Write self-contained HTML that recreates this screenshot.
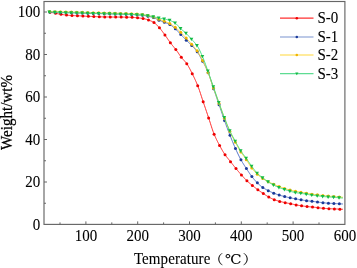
<!DOCTYPE html>
<html><head><meta charset="utf-8"><style>
html,body{margin:0;padding:0;background:#fff;}
body{width:357px;height:268px;overflow:hidden;}
svg{display:block;}
.t{font-family:"Liberation Serif","Noto Serif CJK SC",serif;font-size:15px;fill:#000;stroke:#000;stroke-width:0.08px;}
.c{font-family:"Noto Serif CJK SC","Liberation Serif",serif;}
.d{font-family:"DejaVu Serif","Noto Serif CJK SC",serif;}
</style></head><body>
<svg width="357" height="268" viewBox="0 0 357 268">
<rect x="44" y="1.5" width="300.9" height="222.9" fill="none" stroke="#666" stroke-width="1.15"/>
<line x1="44" y1="203.25" x2="46" y2="203.25" stroke="#666" stroke-width="1"/>
<line x1="44" y1="182.00" x2="47" y2="182.00" stroke="#666" stroke-width="1"/>
<line x1="44" y1="160.75" x2="46" y2="160.75" stroke="#666" stroke-width="1"/>
<line x1="44" y1="139.50" x2="47" y2="139.50" stroke="#666" stroke-width="1"/>
<line x1="44" y1="118.25" x2="46" y2="118.25" stroke="#666" stroke-width="1"/>
<line x1="44" y1="97.00" x2="47" y2="97.00" stroke="#666" stroke-width="1"/>
<line x1="44" y1="75.75" x2="46" y2="75.75" stroke="#666" stroke-width="1"/>
<line x1="44" y1="54.50" x2="47" y2="54.50" stroke="#666" stroke-width="1"/>
<line x1="44" y1="33.25" x2="46" y2="33.25" stroke="#666" stroke-width="1"/>
<line x1="44" y1="12.00" x2="47" y2="12.00" stroke="#666" stroke-width="1"/>
<line x1="60.00" y1="224.4" x2="60.00" y2="222.4" stroke="#666" stroke-width="1"/>
<line x1="85.90" y1="224.4" x2="85.90" y2="221.4" stroke="#666" stroke-width="1"/>
<line x1="111.80" y1="224.4" x2="111.80" y2="222.4" stroke="#666" stroke-width="1"/>
<line x1="137.70" y1="224.4" x2="137.70" y2="221.4" stroke="#666" stroke-width="1"/>
<line x1="163.60" y1="224.4" x2="163.60" y2="222.4" stroke="#666" stroke-width="1"/>
<line x1="189.50" y1="224.4" x2="189.50" y2="221.4" stroke="#666" stroke-width="1"/>
<line x1="215.40" y1="224.4" x2="215.40" y2="222.4" stroke="#666" stroke-width="1"/>
<line x1="241.30" y1="224.4" x2="241.30" y2="221.4" stroke="#666" stroke-width="1"/>
<line x1="267.20" y1="224.4" x2="267.20" y2="222.4" stroke="#666" stroke-width="1"/>
<line x1="293.10" y1="224.4" x2="293.10" y2="221.4" stroke="#666" stroke-width="1"/>
<line x1="319.00" y1="224.4" x2="319.00" y2="222.4" stroke="#666" stroke-width="1"/>
<text transform="translate(40.2 229.60) scale(1 1.07)" text-anchor="end" class="t">0</text>
<text transform="translate(40.2 187.10) scale(1 1.07)" text-anchor="end" class="t">20</text>
<text transform="translate(40.2 144.60) scale(1 1.07)" text-anchor="end" class="t">40</text>
<text transform="translate(40.2 102.10) scale(1 1.07)" text-anchor="end" class="t">60</text>
<text transform="translate(40.2 59.60) scale(1 1.07)" text-anchor="end" class="t">80</text>
<text transform="translate(40.2 17.10) scale(1 1.07)" text-anchor="end" class="t">100</text>
<text transform="translate(85.90 240.9) scale(1 1.07)" text-anchor="middle" class="t">100</text>
<text transform="translate(137.70 240.9) scale(1 1.07)" text-anchor="middle" class="t">200</text>
<text transform="translate(189.50 240.9) scale(1 1.07)" text-anchor="middle" class="t">300</text>
<text transform="translate(241.30 240.9) scale(1 1.07)" text-anchor="middle" class="t">400</text>
<text transform="translate(293.10 240.9) scale(1 1.07)" text-anchor="middle" class="t">500</text>
<text transform="translate(344.90 240.9) scale(1 1.07)" text-anchor="middle" class="t">600</text>
<text transform="translate(133.9 263.6) scale(1 1.05)" class="t" textLength="76.4" lengthAdjust="spacing">Temperature</text>
<text x="208.6" y="263.6" class="t c" transform="translate(0 264.8) scale(1 0.867) translate(0 -264.8)">（</text>
<text x="224.7" y="264.2" class="t d" transform="translate(0 264.3) scale(1 0.89) translate(0 -264.3)">℃</text>
<text x="242.6" y="263.6" class="t c" transform="translate(0 264.8) scale(1 0.867) translate(0 -264.8)">）</text>
<text transform="translate(12.0 150.0) rotate(-90)" class="t" style="font-size:16.5px;stroke-width:0.25px" textLength="75" lengthAdjust="spacingAndGlyphs">Weight/wt%</text>
<polyline points="48.0,11.80 48.5,11.87 49.0,11.95 49.5,12.03 50.0,12.12 50.5,12.21 51.0,12.30 51.5,12.40 52.0,12.51 52.5,12.62 53.0,12.73 53.5,12.85 54.0,12.97 54.5,13.09 55.0,13.20 55.5,13.30 56.0,13.40 56.5,13.50 57.0,13.59 57.5,13.69 58.0,13.78 58.5,13.88 59.0,13.97 59.5,14.05 60.0,14.14 60.5,14.22 61.0,14.31 61.5,14.38 62.0,14.46 62.5,14.54 63.0,14.61 63.5,14.69 64.0,14.76 64.5,14.83 65.0,14.90 65.5,14.97 66.0,15.03 66.5,15.09 67.0,15.15 67.5,15.20 68.0,15.25 68.5,15.30 69.0,15.34 69.5,15.39 70.0,15.43 70.5,15.47 71.0,15.50 71.5,15.54 72.0,15.57 72.5,15.60 73.0,15.62 73.5,15.64 74.0,15.66 74.5,15.67 75.0,15.69 75.5,15.70 76.0,15.72 76.5,15.73 77.0,15.74 77.5,15.76 78.0,15.78 78.5,15.80 79.0,15.82 79.5,15.85 80.0,15.88 80.5,15.91 81.0,15.94 81.5,15.98 82.0,16.01 82.5,16.04 83.0,16.07 83.5,16.10 84.0,16.13 84.5,16.15 85.0,16.18 85.5,16.20 86.0,16.22 86.5,16.25 87.0,16.27 87.5,16.29 88.0,16.31 88.5,16.34 89.0,16.36 89.5,16.38 90.0,16.40 90.5,16.42 91.0,16.44 91.5,16.47 92.0,16.49 92.5,16.51 93.0,16.53 93.5,16.56 94.0,16.58 94.5,16.60 95.0,16.62 95.5,16.64 96.0,16.66 96.5,16.68 97.0,16.70 97.5,16.72 98.0,16.74 98.5,16.76 99.0,16.77 99.5,16.79 100.0,16.80 100.5,16.81 101.0,16.83 101.5,16.84 102.0,16.85 102.5,16.86 103.0,16.87 103.5,16.88 104.0,16.90 104.5,16.91 105.0,16.92 105.5,16.93 106.0,16.94 106.5,16.94 107.0,16.95 107.5,16.96 108.0,16.97 108.5,16.98 109.0,16.99 109.5,16.99 110.0,17.00 110.5,17.01 111.0,17.01 111.5,17.02 112.0,17.02 112.5,17.03 113.0,17.03 113.5,17.04 114.0,17.04 114.5,17.05 115.0,17.05 115.5,17.05 116.0,17.06 116.5,17.06 117.0,17.06 117.5,17.07 118.0,17.07 118.5,17.07 119.0,17.08 119.5,17.08 120.0,17.08 120.5,17.09 121.0,17.09 121.5,17.09 122.0,17.10 122.5,17.10 123.0,17.11 123.5,17.11 124.0,17.11 124.5,17.12 125.0,17.12 125.5,17.13 126.0,17.14 126.5,17.14 127.0,17.15 127.5,17.16 128.0,17.16 128.5,17.17 129.0,17.18 129.5,17.19 130.0,17.20 130.5,17.21 131.0,17.24 131.5,17.26 132.0,17.30 132.5,17.34 133.0,17.38 133.5,17.43 134.0,17.48 134.5,17.53 135.0,17.59 135.5,17.64 136.0,17.70 136.5,17.75 137.0,17.80 137.5,17.85 138.0,17.90 138.5,17.95 139.0,18.00 139.5,18.05 140.0,18.10 140.5,18.16 141.0,18.22 141.5,18.28 142.0,18.35 142.5,18.42 143.0,18.50 143.5,18.59 144.0,18.69 144.5,18.80 145.0,18.92 145.5,19.05 146.0,19.20 146.5,19.34 147.0,19.50 147.5,19.66 148.0,19.83 148.5,20.00 149.0,20.18 149.5,20.37 150.0,20.56 150.5,20.77 151.0,20.99 151.5,21.23 152.0,21.47 152.5,21.73 153.0,22.01 153.5,22.30 154.0,22.61 154.5,22.93 155.0,23.30 155.5,23.71 156.0,24.16 156.5,24.64 157.0,25.15 157.5,25.68 158.0,26.22 158.5,26.78 159.0,27.34 159.5,27.90 160.0,28.47 160.5,29.07 161.0,29.69 161.5,30.33 162.0,30.99 162.5,31.66 163.0,32.33 163.5,33.02 164.0,33.70 164.5,34.39 165.0,35.07 165.5,35.77 166.0,36.49 166.5,37.21 167.0,37.94 167.5,38.68 168.0,39.42 168.5,40.15 169.0,40.87 169.5,41.59 170.0,42.29 170.5,42.97 171.0,43.62 171.5,44.26 172.0,44.89 172.5,45.50 173.0,46.10 173.5,46.70 174.0,47.30 174.5,47.90 175.0,48.51 175.5,49.14 176.0,49.77 176.5,50.43 177.0,51.12 177.5,51.83 178.0,52.56 178.5,53.30 179.0,54.05 179.5,54.78 180.0,55.51 180.5,56.22 181.0,56.91 181.5,57.56 182.0,58.17 182.5,58.75 183.0,59.31 183.5,59.85 184.0,60.39 184.5,60.94 185.0,61.50 185.5,62.08 186.0,62.69 186.5,63.34 187.0,64.04 187.5,64.80 188.0,65.61 188.5,66.47 189.0,67.36 189.5,68.29 190.0,69.24 190.5,70.21 191.0,71.20 191.5,72.20 192.0,73.20 192.5,74.20 193.0,75.21 193.5,76.23 194.0,77.26 194.5,78.31 195.0,79.38 195.5,80.48 196.0,81.60 196.5,82.75 197.0,83.93 197.5,85.15 198.0,86.41 198.5,87.74 199.0,89.13 199.5,90.57 200.0,92.06 200.5,93.57 201.0,95.11 201.5,96.65 202.0,98.18 202.5,99.71 203.0,101.20 203.5,102.68 204.0,104.16 204.5,105.64 205.0,107.12 205.5,108.60 206.0,110.08 206.5,111.57 207.0,113.05 207.5,114.54 208.0,116.02 208.5,117.51 209.0,119.00 209.5,120.53 210.0,122.08 210.5,123.66 211.0,125.24 211.5,126.80 212.0,128.34 212.5,129.83 213.0,131.26 213.5,132.63 214.0,133.90 214.5,135.10 215.0,136.26 215.5,137.37 216.0,138.45 216.5,139.50 217.0,140.51 217.5,141.51 218.0,142.48 218.5,143.43 219.0,144.38 219.5,145.31 220.0,146.24 220.5,147.16 221.0,148.07 221.5,148.96 222.0,149.84 222.5,150.69 223.0,151.53 223.5,152.35 224.0,153.14 224.5,153.91 225.0,154.65 225.5,155.36 226.0,156.04 226.5,156.70 227.0,157.35 227.5,157.98 228.0,158.60 228.5,159.21 229.0,159.82 229.5,160.43 230.0,161.05 230.5,161.67 231.0,162.31 231.5,162.94 232.0,163.58 232.5,164.21 233.0,164.85 233.5,165.48 234.0,166.11 234.5,166.73 235.0,167.35 235.5,167.97 236.0,168.58 236.5,169.18 237.0,169.79 237.5,170.39 238.0,170.98 238.5,171.57 239.0,172.16 239.5,172.74 240.0,173.32 240.5,173.89 241.0,174.46 241.5,175.02 242.0,175.59 242.5,176.15 243.0,176.71 243.5,177.26 244.0,177.81 244.5,178.35 245.0,178.88 245.5,179.40 246.0,179.91 246.5,180.40 247.0,180.88 247.5,181.35 248.0,181.80 248.5,182.25 249.0,182.69 249.5,183.12 250.0,183.54 250.5,183.96 251.0,184.38 251.5,184.79 252.0,185.20 252.5,185.61 253.0,186.01 253.5,186.41 254.0,186.81 254.5,187.20 255.0,187.59 255.5,187.98 256.0,188.36 256.5,188.73 257.0,189.11 257.5,189.48 258.0,189.85 258.5,190.21 259.0,190.57 259.5,190.93 260.0,191.28 260.5,191.63 261.0,191.97 261.5,192.32 262.0,192.66 262.5,193.00 263.0,193.33 263.5,193.67 264.0,194.01 264.5,194.35 265.0,194.68 265.5,195.02 266.0,195.35 266.5,195.67 267.0,195.99 267.5,196.29 268.0,196.59 268.5,196.87 269.0,197.15 269.5,197.43 270.0,197.70 270.5,197.96 271.0,198.22 271.5,198.47 272.0,198.72 272.5,198.95 273.0,199.17 273.5,199.38 274.0,199.58 274.5,199.77 275.0,199.95 275.5,200.12 276.0,200.29 276.5,200.45 277.0,200.61 277.5,200.76 278.0,200.91 278.5,201.05 279.0,201.19 279.5,201.33 280.0,201.46 280.5,201.58 281.0,201.71 281.5,201.83 282.0,201.94 282.5,202.05 283.0,202.17 283.5,202.28 284.0,202.38 284.5,202.49 285.0,202.60 285.5,202.71 286.0,202.81 286.5,202.92 287.0,203.02 287.5,203.12 288.0,203.22 288.5,203.32 289.0,203.42 289.5,203.52 290.0,203.62 290.5,203.72 291.0,203.82 291.5,203.93 292.0,204.04 292.5,204.14 293.0,204.25 293.5,204.35 294.0,204.46 294.5,204.56 295.0,204.66 295.5,204.76 296.0,204.86 296.5,204.95 297.0,205.05 297.5,205.14 298.0,205.24 298.5,205.33 299.0,205.42 299.5,205.51 300.0,205.59 300.5,205.68 301.0,205.75 301.5,205.83 302.0,205.90 302.5,205.97 303.0,206.04 303.5,206.11 304.0,206.18 304.5,206.24 305.0,206.30 305.5,206.36 306.0,206.42 306.5,206.48 307.0,206.53 307.5,206.58 308.0,206.63 308.5,206.68 309.0,206.72 309.5,206.77 310.0,206.81 310.5,206.86 311.0,206.90 311.5,206.95 312.0,207.00 312.5,207.05 313.0,207.10 313.5,207.15 314.0,207.20 314.5,207.25 315.0,207.31 315.5,207.36 316.0,207.42 316.5,207.47 317.0,207.53 317.5,207.59 318.0,207.65 318.5,207.72 319.0,207.79 319.5,207.87 320.0,207.95 320.5,208.02 321.0,208.09 321.5,208.16 322.0,208.22 322.5,208.27 323.0,208.32 323.5,208.35 324.0,208.38 324.5,208.41 325.0,208.44 325.5,208.47 326.0,208.49 326.5,208.52 327.0,208.54 327.5,208.57 328.0,208.59 328.5,208.62 329.0,208.65 329.5,208.68 330.0,208.71 330.5,208.74 331.0,208.76 331.5,208.79 332.0,208.82 332.5,208.84 333.0,208.87 333.5,208.89 334.0,208.91 334.5,208.93 335.0,208.95 335.5,208.97 336.0,208.98 336.5,209.00 337.0,209.02 337.5,209.03 338.0,209.05 338.5,209.07 339.0,209.09 339.5,209.11 340.0,209.13 340.5,209.16 341.0,209.18 341.5,209.21 342.0,209.24 342.5,209.27 343.0,209.30" fill="none" stroke="#ff2020" stroke-width="0.95"/>
<circle cx="50.10" cy="12.14" r="1.50" fill="#ee0000"/>
<circle cx="55.57" cy="13.31" r="1.50" fill="#ee0000"/>
<circle cx="61.03" cy="14.31" r="1.50" fill="#ee0000"/>
<circle cx="66.50" cy="15.09" r="1.50" fill="#ee0000"/>
<circle cx="71.97" cy="15.57" r="1.50" fill="#ee0000"/>
<circle cx="77.44" cy="15.76" r="1.50" fill="#ee0000"/>
<circle cx="82.90" cy="16.07" r="1.50" fill="#ee0000"/>
<circle cx="88.37" cy="16.33" r="1.50" fill="#ee0000"/>
<circle cx="93.84" cy="16.57" r="1.50" fill="#ee0000"/>
<circle cx="99.30" cy="16.78" r="1.50" fill="#ee0000"/>
<circle cx="104.77" cy="16.91" r="1.50" fill="#ee0000"/>
<circle cx="110.24" cy="17.00" r="1.50" fill="#ee0000"/>
<circle cx="115.70" cy="17.06" r="1.50" fill="#ee0000"/>
<circle cx="121.17" cy="17.09" r="1.50" fill="#ee0000"/>
<circle cx="126.64" cy="17.14" r="1.50" fill="#ee0000"/>
<circle cx="132.10" cy="17.31" r="1.50" fill="#ee0000"/>
<circle cx="137.57" cy="17.86" r="1.50" fill="#ee0000"/>
<circle cx="143.04" cy="18.51" r="1.50" fill="#ee0000"/>
<circle cx="148.51" cy="20.00" r="1.50" fill="#ee0000"/>
<circle cx="153.97" cy="22.59" r="1.50" fill="#ee0000"/>
<circle cx="159.44" cy="27.83" r="1.50" fill="#ee0000"/>
<circle cx="164.91" cy="34.95" r="1.50" fill="#ee0000"/>
<circle cx="170.37" cy="42.80" r="1.50" fill="#ee0000"/>
<circle cx="175.84" cy="49.57" r="1.50" fill="#ee0000"/>
<circle cx="181.31" cy="57.31" r="1.50" fill="#ee0000"/>
<circle cx="186.77" cy="63.72" r="1.50" fill="#ee0000"/>
<circle cx="192.24" cy="73.68" r="1.50" fill="#ee0000"/>
<circle cx="197.71" cy="85.67" r="1.50" fill="#ee0000"/>
<circle cx="203.18" cy="101.72" r="1.50" fill="#ee0000"/>
<circle cx="208.64" cy="117.93" r="1.50" fill="#ee0000"/>
<circle cx="214.11" cy="134.17" r="1.50" fill="#ee0000"/>
<circle cx="219.58" cy="145.46" r="1.50" fill="#ee0000"/>
<circle cx="225.04" cy="154.71" r="1.50" fill="#ee0000"/>
<circle cx="230.51" cy="161.69" r="1.50" fill="#ee0000"/>
<circle cx="235.98" cy="168.55" r="1.50" fill="#ee0000"/>
<circle cx="241.44" cy="174.96" r="1.50" fill="#ee0000"/>
<circle cx="246.91" cy="180.80" r="1.50" fill="#ee0000"/>
<circle cx="252.38" cy="185.51" r="1.50" fill="#ee0000"/>
<circle cx="257.85" cy="189.73" r="1.50" fill="#ee0000"/>
<circle cx="263.31" cy="193.54" r="1.50" fill="#ee0000"/>
<circle cx="268.78" cy="197.03" r="1.50" fill="#ee0000"/>
<circle cx="274.25" cy="199.67" r="1.50" fill="#ee0000"/>
<circle cx="279.71" cy="201.38" r="1.50" fill="#ee0000"/>
<circle cx="285.18" cy="202.64" r="1.50" fill="#ee0000"/>
<circle cx="290.65" cy="203.75" r="1.50" fill="#ee0000"/>
<circle cx="296.12" cy="204.88" r="1.50" fill="#ee0000"/>
<circle cx="301.58" cy="205.84" r="1.50" fill="#ee0000"/>
<circle cx="307.05" cy="206.54" r="1.50" fill="#ee0000"/>
<circle cx="312.52" cy="207.05" r="1.50" fill="#ee0000"/>
<circle cx="317.98" cy="207.65" r="1.50" fill="#ee0000"/>
<circle cx="323.45" cy="208.35" r="1.50" fill="#ee0000"/>
<circle cx="328.92" cy="208.65" r="1.50" fill="#ee0000"/>
<circle cx="334.38" cy="208.93" r="1.50" fill="#ee0000"/>
<circle cx="339.85" cy="209.13" r="1.50" fill="#ee0000"/>
<polyline points="48.0,12.00 48.5,12.02 49.0,12.03 49.5,12.05 50.0,12.07 50.5,12.08 51.0,12.10 51.5,12.11 52.0,12.13 52.5,12.15 53.0,12.16 53.5,12.18 54.0,12.20 54.5,12.21 55.0,12.23 55.5,12.24 56.0,12.26 56.5,12.28 57.0,12.29 57.5,12.31 58.0,12.32 58.5,12.34 59.0,12.36 59.5,12.37 60.0,12.39 60.5,12.40 61.0,12.42 61.5,12.43 62.0,12.45 62.5,12.47 63.0,12.48 63.5,12.50 64.0,12.51 64.5,12.53 65.0,12.54 65.5,12.56 66.0,12.58 66.5,12.59 67.0,12.61 67.5,12.62 68.0,12.64 68.5,12.65 69.0,12.67 69.5,12.68 70.0,12.70 70.5,12.72 71.0,12.73 71.5,12.75 72.0,12.76 72.5,12.78 73.0,12.79 73.5,12.81 74.0,12.82 74.5,12.84 75.0,12.85 75.5,12.87 76.0,12.89 76.5,12.90 77.0,12.92 77.5,12.93 78.0,12.95 78.5,12.96 79.0,12.98 79.5,12.99 80.0,13.01 80.5,13.02 81.0,13.04 81.5,13.05 82.0,13.07 82.5,13.08 83.0,13.10 83.5,13.11 84.0,13.13 84.5,13.14 85.0,13.16 85.5,13.17 86.0,13.19 86.5,13.20 87.0,13.22 87.5,13.23 88.0,13.24 88.5,13.26 89.0,13.27 89.5,13.29 90.0,13.30 90.5,13.31 91.0,13.33 91.5,13.34 92.0,13.35 92.5,13.37 93.0,13.38 93.5,13.39 94.0,13.40 94.5,13.42 95.0,13.43 95.5,13.44 96.0,13.45 96.5,13.47 97.0,13.48 97.5,13.49 98.0,13.50 98.5,13.51 99.0,13.53 99.5,13.54 100.0,13.55 100.5,13.56 101.0,13.57 101.5,13.59 102.0,13.60 102.5,13.61 103.0,13.62 103.5,13.63 104.0,13.65 104.5,13.66 105.0,13.67 105.5,13.68 106.0,13.70 106.5,13.71 107.0,13.72 107.5,13.73 108.0,13.75 108.5,13.76 109.0,13.77 109.5,13.79 110.0,13.80 110.5,13.81 111.0,13.83 111.5,13.84 112.0,13.85 112.5,13.87 113.0,13.88 113.5,13.89 114.0,13.90 114.5,13.92 115.0,13.93 115.5,13.94 116.0,13.95 116.5,13.97 117.0,13.98 117.5,13.99 118.0,14.00 118.5,14.02 119.0,14.03 119.5,14.04 120.0,14.06 120.5,14.07 121.0,14.08 121.5,14.10 122.0,14.11 122.5,14.13 123.0,14.14 123.5,14.16 124.0,14.17 124.5,14.19 125.0,14.21 125.5,14.22 126.0,14.24 126.5,14.26 127.0,14.28 127.5,14.30 128.0,14.32 128.5,14.34 129.0,14.36 129.5,14.38 130.0,14.40 130.5,14.42 131.0,14.45 131.5,14.47 132.0,14.50 132.5,14.52 133.0,14.55 133.5,14.58 134.0,14.61 134.5,14.65 135.0,14.68 135.5,14.71 136.0,14.75 136.5,14.79 137.0,14.82 137.5,14.86 138.0,14.91 138.5,14.95 139.0,14.99 139.5,15.04 140.0,15.08 140.5,15.13 141.0,15.18 141.5,15.24 142.0,15.29 142.5,15.34 143.0,15.40 143.5,15.46 144.0,15.52 144.5,15.59 145.0,15.67 145.5,15.75 146.0,15.83 146.5,15.92 147.0,16.01 147.5,16.11 148.0,16.21 148.5,16.32 149.0,16.43 149.5,16.55 150.0,16.67 150.5,16.79 151.0,16.92 151.5,17.06 152.0,17.19 152.5,17.33 153.0,17.48 153.5,17.63 154.0,17.80 154.5,18.00 155.0,18.23 155.5,18.47 156.0,18.72 156.5,18.98 157.0,19.24 157.5,19.50 158.0,19.75 158.5,19.98 159.0,20.20 159.5,20.40 160.0,20.60 160.5,20.78 161.0,20.97 161.5,21.15 162.0,21.33 162.5,21.51 163.0,21.69 163.5,21.87 164.0,22.06 164.5,22.26 165.0,22.46 165.5,22.66 166.0,22.86 166.5,23.06 167.0,23.27 167.5,23.48 168.0,23.70 168.5,23.92 169.0,24.16 169.5,24.42 170.0,24.69 170.5,24.98 171.0,25.30 171.5,25.64 172.0,26.01 172.5,26.40 173.0,26.81 173.5,27.23 174.0,27.66 174.5,28.10 175.0,28.55 175.5,29.00 176.0,29.46 176.5,29.95 177.0,30.45 177.5,30.97 178.0,31.50 178.5,32.04 179.0,32.58 179.5,33.13 180.0,33.66 180.5,34.19 181.0,34.71 181.5,35.23 182.0,35.75 182.5,36.28 183.0,36.80 183.5,37.32 184.0,37.84 184.5,38.36 185.0,38.88 185.5,39.39 186.0,39.90 186.5,40.40 187.0,40.90 187.5,41.38 188.0,41.86 188.5,42.34 189.0,42.82 189.5,43.30 190.0,43.79 190.5,44.28 191.0,44.78 191.5,45.29 192.0,45.81 192.5,46.34 193.0,46.86 193.5,47.38 194.0,47.91 194.5,48.46 195.0,49.02 195.5,49.60 196.0,50.20 196.5,50.84 197.0,51.50 197.5,52.21 198.0,52.96 198.5,53.75 199.0,54.59 199.5,55.45 200.0,56.33 200.5,57.23 201.0,58.15 201.5,59.07 202.0,60.00 202.5,60.93 203.0,61.85 203.5,62.79 204.0,63.74 204.5,64.71 205.0,65.70 205.5,66.71 206.0,67.75 206.5,68.83 207.0,69.94 207.5,71.09 208.0,72.29 208.5,73.56 209.0,74.92 209.5,76.33 210.0,77.80 210.5,79.30 211.0,80.82 211.5,82.36 212.0,83.90 212.5,85.42 213.0,86.91 213.5,88.38 214.0,89.84 214.5,91.30 215.0,92.77 215.5,94.24 216.0,95.71 216.5,97.17 217.0,98.64 217.5,100.11 218.0,101.57 218.5,103.04 219.0,104.50 219.5,105.96 220.0,107.43 220.5,108.90 221.0,110.38 221.5,111.85 222.0,113.32 222.5,114.78 223.0,116.23 223.5,117.67 224.0,119.09 224.5,120.50 225.0,121.90 225.5,123.29 226.0,124.67 226.5,126.05 227.0,127.41 227.5,128.77 228.0,130.11 228.5,131.44 229.0,132.76 229.5,134.06 230.0,135.34 230.5,136.62 231.0,137.88 231.5,139.13 232.0,140.38 232.5,141.61 233.0,142.82 233.5,144.02 234.0,145.20 234.5,146.36 235.0,147.50 235.5,148.62 236.0,149.73 236.5,150.82 237.0,151.90 237.5,152.97 238.0,154.03 238.5,155.06 239.0,156.08 239.5,157.07 240.0,158.04 240.5,158.98 241.0,159.90 241.5,160.79 242.0,161.65 242.5,162.49 243.0,163.31 243.5,164.12 244.0,164.91 244.5,165.68 245.0,166.46 245.5,167.22 246.0,167.98 246.5,168.75 247.0,169.51 247.5,170.28 248.0,171.05 248.5,171.81 249.0,172.56 249.5,173.30 250.0,174.03 250.5,174.74 251.0,175.44 251.5,176.11 252.0,176.76 252.5,177.39 253.0,178.01 253.5,178.62 254.0,179.22 254.5,179.80 255.0,180.37 255.5,180.93 256.0,181.47 256.5,181.99 257.0,182.50 257.5,183.00 258.0,183.48 258.5,183.96 259.0,184.43 259.5,184.88 260.0,185.32 260.5,185.75 261.0,186.17 261.5,186.56 262.0,186.94 262.5,187.30 263.0,187.64 263.5,187.97 264.0,188.28 264.5,188.59 265.0,188.88 265.5,189.16 266.0,189.44 266.5,189.71 267.0,189.98 267.5,190.24 268.0,190.50 268.5,190.75 269.0,191.01 269.5,191.26 270.0,191.50 270.5,191.74 271.0,191.98 271.5,192.21 272.0,192.44 272.5,192.66 273.0,192.87 273.5,193.08 274.0,193.28 274.5,193.48 275.0,193.67 275.5,193.85 276.0,194.04 276.5,194.21 277.0,194.39 277.5,194.56 278.0,194.72 278.5,194.88 279.0,195.04 279.5,195.19 280.0,195.34 280.5,195.48 281.0,195.62 281.5,195.76 282.0,195.89 282.5,196.02 283.0,196.15 283.5,196.28 284.0,196.40 284.5,196.53 285.0,196.65 285.5,196.77 286.0,196.89 286.5,197.01 287.0,197.12 287.5,197.24 288.0,197.35 288.5,197.46 289.0,197.57 289.5,197.67 290.0,197.78 290.5,197.88 291.0,197.98 291.5,198.08 292.0,198.18 292.5,198.28 293.0,198.37 293.5,198.47 294.0,198.56 294.5,198.65 295.0,198.74 295.5,198.84 296.0,198.93 296.5,199.02 297.0,199.11 297.5,199.20 298.0,199.28 298.5,199.37 299.0,199.46 299.5,199.54 300.0,199.63 300.5,199.72 301.0,199.80 301.5,199.89 302.0,199.97 302.5,200.06 303.0,200.15 303.5,200.23 304.0,200.32 304.5,200.40 305.0,200.48 305.5,200.56 306.0,200.63 306.5,200.70 307.0,200.76 307.5,200.82 308.0,200.88 308.5,200.93 309.0,200.98 309.5,201.03 310.0,201.08 310.5,201.14 311.0,201.19 311.5,201.24 312.0,201.30 312.5,201.36 313.0,201.42 313.5,201.49 314.0,201.55 314.5,201.62 315.0,201.68 315.5,201.75 316.0,201.82 316.5,201.88 317.0,201.95 317.5,202.01 318.0,202.08 318.5,202.15 319.0,202.21 319.5,202.28 320.0,202.35 320.5,202.42 321.0,202.48 321.5,202.55 322.0,202.61 322.5,202.67 323.0,202.72 323.5,202.78 324.0,202.83 324.5,202.88 325.0,202.93 325.5,202.98 326.0,203.03 326.5,203.07 327.0,203.12 327.5,203.16 328.0,203.19 328.5,203.23 329.0,203.26 329.5,203.29 330.0,203.31 330.5,203.34 331.0,203.37 331.5,203.39 332.0,203.41 332.5,203.44 333.0,203.46 333.5,203.49 334.0,203.52 334.5,203.54 335.0,203.57 335.5,203.60 336.0,203.62 336.5,203.65 337.0,203.68 337.5,203.70 338.0,203.73 338.5,203.76 339.0,203.78 339.5,203.81 340.0,203.84 340.5,203.86 341.0,203.89 341.5,203.92 342.0,203.95 342.5,203.97 343.0,204.00" fill="none" stroke="#4f6fc4" stroke-width="0.95"/>
<circle cx="49.60" cy="12.05" r="1.50" fill="#1a3a99"/>
<circle cx="55.07" cy="12.23" r="1.50" fill="#1a3a99"/>
<circle cx="60.53" cy="12.40" r="1.50" fill="#1a3a99"/>
<circle cx="66.00" cy="12.58" r="1.50" fill="#1a3a99"/>
<circle cx="71.47" cy="12.75" r="1.50" fill="#1a3a99"/>
<circle cx="76.94" cy="12.91" r="1.50" fill="#1a3a99"/>
<circle cx="82.40" cy="13.08" r="1.50" fill="#1a3a99"/>
<circle cx="87.87" cy="13.24" r="1.50" fill="#1a3a99"/>
<circle cx="93.34" cy="13.39" r="1.50" fill="#1a3a99"/>
<circle cx="98.80" cy="13.52" r="1.50" fill="#1a3a99"/>
<circle cx="104.27" cy="13.65" r="1.50" fill="#1a3a99"/>
<circle cx="109.74" cy="13.79" r="1.50" fill="#1a3a99"/>
<circle cx="115.20" cy="13.93" r="1.50" fill="#1a3a99"/>
<circle cx="120.67" cy="14.08" r="1.50" fill="#1a3a99"/>
<circle cx="126.14" cy="14.25" r="1.50" fill="#1a3a99"/>
<circle cx="131.60" cy="14.48" r="1.50" fill="#1a3a99"/>
<circle cx="137.07" cy="14.83" r="1.50" fill="#1a3a99"/>
<circle cx="142.54" cy="15.35" r="1.50" fill="#1a3a99"/>
<circle cx="148.01" cy="16.22" r="1.50" fill="#1a3a99"/>
<circle cx="153.47" cy="17.62" r="1.50" fill="#1a3a99"/>
<circle cx="158.94" cy="20.17" r="1.50" fill="#1a3a99"/>
<circle cx="164.41" cy="22.22" r="1.50" fill="#1a3a99"/>
<circle cx="169.87" cy="24.62" r="1.50" fill="#1a3a99"/>
<circle cx="175.34" cy="28.86" r="1.50" fill="#1a3a99"/>
<circle cx="180.81" cy="34.51" r="1.50" fill="#1a3a99"/>
<circle cx="186.27" cy="40.17" r="1.50" fill="#1a3a99"/>
<circle cx="191.74" cy="45.54" r="1.50" fill="#1a3a99"/>
<circle cx="197.21" cy="51.79" r="1.50" fill="#1a3a99"/>
<circle cx="202.68" cy="61.25" r="1.50" fill="#1a3a99"/>
<circle cx="208.14" cy="72.64" r="1.50" fill="#1a3a99"/>
<circle cx="213.61" cy="88.70" r="1.50" fill="#1a3a99"/>
<circle cx="219.08" cy="104.72" r="1.50" fill="#1a3a99"/>
<circle cx="224.54" cy="120.62" r="1.50" fill="#1a3a99"/>
<circle cx="230.01" cy="135.37" r="1.50" fill="#1a3a99"/>
<circle cx="235.48" cy="148.57" r="1.50" fill="#1a3a99"/>
<circle cx="240.94" cy="159.80" r="1.50" fill="#1a3a99"/>
<circle cx="246.41" cy="168.61" r="1.50" fill="#1a3a99"/>
<circle cx="251.88" cy="176.60" r="1.50" fill="#1a3a99"/>
<circle cx="257.35" cy="182.84" r="1.50" fill="#1a3a99"/>
<circle cx="262.81" cy="187.52" r="1.50" fill="#1a3a99"/>
<circle cx="268.28" cy="190.64" r="1.50" fill="#1a3a99"/>
<circle cx="273.75" cy="193.18" r="1.50" fill="#1a3a99"/>
<circle cx="279.21" cy="195.10" r="1.50" fill="#1a3a99"/>
<circle cx="284.68" cy="196.57" r="1.50" fill="#1a3a99"/>
<circle cx="290.15" cy="197.81" r="1.50" fill="#1a3a99"/>
<circle cx="295.62" cy="198.86" r="1.50" fill="#1a3a99"/>
<circle cx="301.08" cy="199.81" r="1.50" fill="#1a3a99"/>
<circle cx="306.55" cy="200.71" r="1.50" fill="#1a3a99"/>
<circle cx="312.02" cy="201.30" r="1.50" fill="#1a3a99"/>
<circle cx="317.48" cy="202.01" r="1.50" fill="#1a3a99"/>
<circle cx="322.95" cy="202.72" r="1.50" fill="#1a3a99"/>
<circle cx="328.42" cy="203.22" r="1.50" fill="#1a3a99"/>
<circle cx="333.88" cy="203.51" r="1.50" fill="#1a3a99"/>
<circle cx="339.35" cy="203.80" r="1.50" fill="#1a3a99"/>
<polyline points="48.0,11.50 48.5,11.51 49.0,11.52 49.5,11.53 50.0,11.54 50.5,11.55 51.0,11.56 51.5,11.57 52.0,11.58 52.5,11.59 53.0,11.60 53.5,11.61 54.0,11.62 54.5,11.63 55.0,11.64 55.5,11.65 56.0,11.66 56.5,11.67 57.0,11.69 57.5,11.70 58.0,11.71 58.5,11.72 59.0,11.73 59.5,11.74 60.0,11.75 60.5,11.77 61.0,11.78 61.5,11.79 62.0,11.80 62.5,11.81 63.0,11.82 63.5,11.84 64.0,11.85 64.5,11.86 65.0,11.87 65.5,11.89 66.0,11.90 66.5,11.91 67.0,11.92 67.5,11.94 68.0,11.95 68.5,11.96 69.0,11.97 69.5,11.99 70.0,12.00 70.5,12.01 71.0,12.03 71.5,12.04 72.0,12.05 72.5,12.07 73.0,12.08 73.5,12.10 74.0,12.11 74.5,12.13 75.0,12.14 75.5,12.16 76.0,12.17 76.5,12.19 77.0,12.20 77.5,12.22 78.0,12.23 78.5,12.25 79.0,12.26 79.5,12.28 80.0,12.30 80.5,12.31 81.0,12.33 81.5,12.34 82.0,12.36 82.5,12.38 83.0,12.39 83.5,12.41 84.0,12.42 84.5,12.44 85.0,12.45 85.5,12.47 86.0,12.48 86.5,12.50 87.0,12.51 87.5,12.53 88.0,12.54 88.5,12.56 89.0,12.57 89.5,12.59 90.0,12.60 90.5,12.61 91.0,12.63 91.5,12.64 92.0,12.65 92.5,12.67 93.0,12.68 93.5,12.69 94.0,12.70 94.5,12.72 95.0,12.73 95.5,12.74 96.0,12.75 96.5,12.77 97.0,12.78 97.5,12.79 98.0,12.80 98.5,12.81 99.0,12.83 99.5,12.84 100.0,12.85 100.5,12.86 101.0,12.87 101.5,12.89 102.0,12.90 102.5,12.91 103.0,12.92 103.5,12.93 104.0,12.95 104.5,12.96 105.0,12.97 105.5,12.98 106.0,13.00 106.5,13.01 107.0,13.02 107.5,13.03 108.0,13.05 108.5,13.06 109.0,13.07 109.5,13.09 110.0,13.10 110.5,13.11 111.0,13.13 111.5,13.14 112.0,13.15 112.5,13.17 113.0,13.18 113.5,13.19 114.0,13.20 114.5,13.22 115.0,13.23 115.5,13.24 116.0,13.26 116.5,13.27 117.0,13.28 117.5,13.29 118.0,13.31 118.5,13.32 119.0,13.33 119.5,13.35 120.0,13.36 120.5,13.37 121.0,13.39 121.5,13.40 122.0,13.42 122.5,13.43 123.0,13.45 123.5,13.46 124.0,13.48 124.5,13.49 125.0,13.51 125.5,13.53 126.0,13.54 126.5,13.56 127.0,13.58 127.5,13.60 128.0,13.62 128.5,13.64 129.0,13.66 129.5,13.68 130.0,13.70 130.5,13.72 131.0,13.74 131.5,13.77 132.0,13.79 132.5,13.82 133.0,13.84 133.5,13.87 134.0,13.89 134.5,13.92 135.0,13.95 135.5,13.98 136.0,14.01 136.5,14.04 137.0,14.08 137.5,14.11 138.0,14.15 138.5,14.19 139.0,14.23 139.5,14.27 140.0,14.31 140.5,14.35 141.0,14.40 141.5,14.45 142.0,14.50 142.5,14.55 143.0,14.60 143.5,14.66 144.0,14.73 144.5,14.80 145.0,14.88 145.5,14.97 146.0,15.07 146.5,15.17 147.0,15.27 147.5,15.39 148.0,15.50 148.5,15.63 149.0,15.75 149.5,15.89 150.0,16.02 150.5,16.16 151.0,16.30 151.5,16.44 152.0,16.59 152.5,16.73 153.0,16.88 153.5,17.03 154.0,17.19 154.5,17.37 155.0,17.55 155.5,17.75 156.0,17.96 156.5,18.17 157.0,18.38 157.5,18.59 158.0,18.80 158.5,19.00 159.0,19.20 159.5,19.39 160.0,19.58 160.5,19.76 161.0,19.95 161.5,20.13 162.0,20.32 162.5,20.50 163.0,20.69 163.5,20.88 164.0,21.08 164.5,21.28 165.0,21.48 165.5,21.68 166.0,21.88 166.5,22.09 167.0,22.29 167.5,22.50 168.0,22.72 168.5,22.95 169.0,23.19 169.5,23.44 170.0,23.70 170.5,23.98 171.0,24.28 171.5,24.59 172.0,24.92 172.5,25.27 173.0,25.63 173.5,25.99 174.0,26.37 174.5,26.75 175.0,27.14 175.5,27.54 176.0,27.95 176.5,28.37 177.0,28.81 177.5,29.26 178.0,29.71 178.5,30.18 179.0,30.65 179.5,31.13 180.0,31.61 180.5,32.10 181.0,32.59 181.5,33.10 182.0,33.61 182.5,34.13 183.0,34.66 183.5,35.19 184.0,35.73 184.5,36.27 185.0,36.81 185.5,37.35 186.0,37.89 186.5,38.43 187.0,38.97 187.5,39.51 188.0,40.06 188.5,40.60 189.0,41.15 189.5,41.70 190.0,42.26 190.5,42.82 191.0,43.39 191.5,43.97 192.0,44.55 192.5,45.12 193.0,45.70 193.5,46.27 194.0,46.86 194.5,47.45 195.0,48.06 195.5,48.68 196.0,49.33 196.5,50.00 197.0,50.70 197.5,51.44 198.0,52.21 198.5,53.01 199.0,53.84 199.5,54.70 200.0,55.59 200.5,56.49 201.0,57.41 201.5,58.35 202.0,59.30 202.5,60.27 203.0,61.25 203.5,62.26 204.0,63.28 204.5,64.33 205.0,65.41 205.5,66.51 206.0,67.63 206.5,68.78 207.0,69.95 207.5,71.16 208.0,72.40 208.5,73.71 209.0,75.06 209.5,76.46 210.0,77.89 210.5,79.35 211.0,80.81 211.5,82.28 212.0,83.74 212.5,85.19 213.0,86.60 213.5,88.00 214.0,89.39 214.5,90.78 215.0,92.17 215.5,93.56 216.0,94.95 216.5,96.34 217.0,97.72 217.5,99.11 218.0,100.49 218.5,101.87 219.0,103.25 219.5,104.63 220.0,106.02 220.5,107.41 221.0,108.81 221.5,110.20 222.0,111.59 222.5,112.97 223.0,114.34 223.5,115.69 224.0,117.03 224.5,118.34 225.0,119.64 225.5,120.93 226.0,122.21 226.5,123.48 227.0,124.75 227.5,125.99 228.0,127.21 228.5,128.41 229.0,129.58 229.5,130.72 230.0,131.82 230.5,132.89 231.0,133.93 231.5,134.95 232.0,135.94 232.5,136.92 233.0,137.88 233.5,138.83 234.0,139.77 234.5,140.71 235.0,141.64 235.5,142.57 236.0,143.51 236.5,144.44 237.0,145.37 237.5,146.28 238.0,147.19 238.5,148.09 239.0,148.96 239.5,149.82 240.0,150.65 240.5,151.46 241.0,152.23 241.5,152.98 242.0,153.70 242.5,154.40 243.0,155.09 243.5,155.76 244.0,156.44 244.5,157.11 245.0,157.79 245.5,158.48 246.0,159.19 246.5,159.92 247.0,160.69 247.5,161.48 248.0,162.29 248.5,163.10 249.0,163.92 249.5,164.73 250.0,165.53 250.5,166.29 251.0,167.02 251.5,167.71 252.0,168.37 252.5,169.02 253.0,169.65 253.5,170.27 254.0,170.87 254.5,171.45 255.0,172.02 255.5,172.56 256.0,173.09 256.5,173.59 257.0,174.06 257.5,174.52 258.0,174.96 258.5,175.38 259.0,175.79 259.5,176.18 260.0,176.56 260.5,176.93 261.0,177.30 261.5,177.65 262.0,177.99 262.5,178.33 263.0,178.67 263.5,178.99 264.0,179.31 264.5,179.62 265.0,179.92 265.5,180.22 266.0,180.50 266.5,180.79 267.0,181.06 267.5,181.33 268.0,181.60 268.5,181.86 269.0,182.11 269.5,182.36 270.0,182.60 270.5,182.84 271.0,183.07 271.5,183.30 272.0,183.53 272.5,183.75 273.0,183.98 273.5,184.20 274.0,184.42 274.5,184.65 275.0,184.87 275.5,185.09 276.0,185.31 276.5,185.53 277.0,185.74 277.5,185.95 278.0,186.15 278.5,186.35 279.0,186.54 279.5,186.72 280.0,186.90 280.5,187.08 281.0,187.25 281.5,187.42 282.0,187.59 282.5,187.75 283.0,187.92 283.5,188.08 284.0,188.24 284.5,188.40 285.0,188.56 285.5,188.73 286.0,188.89 286.5,189.05 287.0,189.21 287.5,189.37 288.0,189.52 288.5,189.67 289.0,189.81 289.5,189.95 290.0,190.08 290.5,190.20 291.0,190.32 291.5,190.44 292.0,190.55 292.5,190.66 293.0,190.77 293.5,190.87 294.0,190.97 294.5,191.08 295.0,191.18 295.5,191.28 296.0,191.38 296.5,191.48 297.0,191.57 297.5,191.67 298.0,191.76 298.5,191.86 299.0,191.95 299.5,192.04 300.0,192.13 300.5,192.22 301.0,192.31 301.5,192.39 302.0,192.48 302.5,192.56 303.0,192.65 303.5,192.73 304.0,192.81 304.5,192.90 305.0,192.98 305.5,193.07 306.0,193.15 306.5,193.24 307.0,193.33 307.5,193.41 308.0,193.50 308.5,193.59 309.0,193.68 309.5,193.76 310.0,193.85 310.5,193.92 311.0,194.00 311.5,194.07 312.0,194.14 312.5,194.21 313.0,194.27 313.5,194.33 314.0,194.40 314.5,194.46 315.0,194.52 315.5,194.58 316.0,194.65 316.5,194.71 317.0,194.78 317.5,194.85 318.0,194.93 318.5,195.00 319.0,195.08 319.5,195.15 320.0,195.23 320.5,195.30 321.0,195.37 321.5,195.44 322.0,195.50 322.5,195.57 323.0,195.62 323.5,195.68 324.0,195.73 324.5,195.78 325.0,195.82 325.5,195.87 326.0,195.91 326.5,195.96 327.0,196.00 327.5,196.05 328.0,196.09 328.5,196.14 329.0,196.18 329.5,196.23 330.0,196.28 330.5,196.32 331.0,196.37 331.5,196.41 332.0,196.46 332.5,196.50 333.0,196.54 333.5,196.58 334.0,196.62 334.5,196.66 335.0,196.70 335.5,196.73 336.0,196.77 336.5,196.80 337.0,196.84 337.5,196.87 338.0,196.91 338.5,196.94 339.0,196.98 339.5,197.02 340.0,197.05 340.5,197.09 341.0,197.13 341.5,197.17 342.0,197.22 342.5,197.26 343.0,197.30" fill="none" stroke="#ffd42a" stroke-width="0.95"/>
<circle cx="49.50" cy="11.53" r="1.50" fill="#f0b400"/>
<circle cx="54.97" cy="11.64" r="1.50" fill="#f0b400"/>
<circle cx="60.43" cy="11.76" r="1.50" fill="#f0b400"/>
<circle cx="65.90" cy="11.90" r="1.50" fill="#f0b400"/>
<circle cx="71.37" cy="12.04" r="1.50" fill="#f0b400"/>
<circle cx="76.84" cy="12.20" r="1.50" fill="#f0b400"/>
<circle cx="82.30" cy="12.37" r="1.50" fill="#f0b400"/>
<circle cx="87.77" cy="12.54" r="1.50" fill="#f0b400"/>
<circle cx="93.24" cy="12.69" r="1.50" fill="#f0b400"/>
<circle cx="98.70" cy="12.82" r="1.50" fill="#f0b400"/>
<circle cx="104.17" cy="12.95" r="1.50" fill="#f0b400"/>
<circle cx="109.64" cy="13.09" r="1.50" fill="#f0b400"/>
<circle cx="115.10" cy="13.23" r="1.50" fill="#f0b400"/>
<circle cx="120.57" cy="13.38" r="1.50" fill="#f0b400"/>
<circle cx="126.04" cy="13.55" r="1.50" fill="#f0b400"/>
<circle cx="131.50" cy="13.77" r="1.50" fill="#f0b400"/>
<circle cx="136.97" cy="14.08" r="1.50" fill="#f0b400"/>
<circle cx="142.44" cy="14.54" r="1.50" fill="#f0b400"/>
<circle cx="147.91" cy="15.48" r="1.50" fill="#f0b400"/>
<circle cx="153.37" cy="16.99" r="1.50" fill="#f0b400"/>
<circle cx="158.84" cy="19.14" r="1.50" fill="#f0b400"/>
<circle cx="164.31" cy="21.20" r="1.50" fill="#f0b400"/>
<circle cx="169.77" cy="23.58" r="1.50" fill="#f0b400"/>
<circle cx="175.24" cy="27.33" r="1.50" fill="#f0b400"/>
<circle cx="180.71" cy="32.30" r="1.50" fill="#f0b400"/>
<circle cx="186.17" cy="38.08" r="1.50" fill="#f0b400"/>
<circle cx="191.64" cy="44.13" r="1.50" fill="#f0b400"/>
<circle cx="197.11" cy="50.86" r="1.50" fill="#f0b400"/>
<circle cx="202.58" cy="60.41" r="1.50" fill="#f0b400"/>
<circle cx="208.04" cy="72.51" r="1.50" fill="#f0b400"/>
<circle cx="213.51" cy="88.02" r="1.50" fill="#f0b400"/>
<circle cx="218.98" cy="103.19" r="1.50" fill="#f0b400"/>
<circle cx="224.44" cy="118.19" r="1.50" fill="#f0b400"/>
<circle cx="229.91" cy="131.62" r="1.50" fill="#f0b400"/>
<circle cx="235.38" cy="142.35" r="1.50" fill="#f0b400"/>
<circle cx="240.84" cy="152.00" r="1.50" fill="#f0b400"/>
<circle cx="246.31" cy="159.64" r="1.50" fill="#f0b400"/>
<circle cx="251.78" cy="168.08" r="1.50" fill="#f0b400"/>
<circle cx="257.25" cy="174.29" r="1.50" fill="#f0b400"/>
<circle cx="262.71" cy="178.48" r="1.50" fill="#f0b400"/>
<circle cx="268.18" cy="181.69" r="1.50" fill="#f0b400"/>
<circle cx="273.65" cy="184.27" r="1.50" fill="#f0b400"/>
<circle cx="279.11" cy="186.58" r="1.50" fill="#f0b400"/>
<circle cx="284.58" cy="188.43" r="1.50" fill="#f0b400"/>
<circle cx="290.05" cy="190.09" r="1.50" fill="#f0b400"/>
<circle cx="295.51" cy="191.28" r="1.50" fill="#f0b400"/>
<circle cx="300.98" cy="192.30" r="1.50" fill="#f0b400"/>
<circle cx="306.45" cy="193.23" r="1.50" fill="#f0b400"/>
<circle cx="311.92" cy="194.13" r="1.50" fill="#f0b400"/>
<circle cx="317.38" cy="194.84" r="1.50" fill="#f0b400"/>
<circle cx="322.85" cy="195.61" r="1.50" fill="#f0b400"/>
<circle cx="328.32" cy="196.12" r="1.50" fill="#f0b400"/>
<circle cx="333.78" cy="196.61" r="1.50" fill="#f0b400"/>
<circle cx="339.25" cy="197.00" r="1.50" fill="#f0b400"/>
<polyline points="48.0,12.00 48.5,12.01 49.0,12.02 49.5,12.03 50.0,12.04 50.5,12.05 51.0,12.06 51.5,12.08 52.0,12.09 52.5,12.11 53.0,12.13 53.5,12.14 54.0,12.16 54.5,12.18 55.0,12.20 55.5,12.22 56.0,12.25 56.5,12.27 57.0,12.30 57.5,12.33 58.0,12.36 58.5,12.39 59.0,12.42 59.5,12.45 60.0,12.48 60.5,12.50 61.0,12.52 61.5,12.54 62.0,12.57 62.5,12.59 63.0,12.61 63.5,12.63 64.0,12.65 64.5,12.67 65.0,12.68 65.5,12.69 66.0,12.70 66.5,12.70 67.0,12.70 67.5,12.70 68.0,12.70 68.5,12.70 69.0,12.70 69.5,12.70 70.0,12.70 70.5,12.70 71.0,12.70 71.5,12.71 72.0,12.71 72.5,12.72 73.0,12.73 73.5,12.73 74.0,12.74 74.5,12.76 75.0,12.77 75.5,12.78 76.0,12.80 76.5,12.81 77.0,12.83 77.5,12.84 78.0,12.86 78.5,12.88 79.0,12.89 79.5,12.91 80.0,12.93 80.5,12.95 81.0,12.97 81.5,12.99 82.0,13.01 82.5,13.03 83.0,13.05 83.5,13.07 84.0,13.09 84.5,13.11 85.0,13.13 85.5,13.15 86.0,13.17 86.5,13.19 87.0,13.20 87.5,13.22 88.0,13.24 88.5,13.26 89.0,13.27 89.5,13.29 90.0,13.30 90.5,13.31 91.0,13.33 91.5,13.34 92.0,13.35 92.5,13.37 93.0,13.38 93.5,13.39 94.0,13.40 94.5,13.42 95.0,13.43 95.5,13.44 96.0,13.45 96.5,13.47 97.0,13.48 97.5,13.49 98.0,13.50 98.5,13.51 99.0,13.53 99.5,13.54 100.0,13.55 100.5,13.56 101.0,13.57 101.5,13.59 102.0,13.60 102.5,13.61 103.0,13.62 103.5,13.63 104.0,13.65 104.5,13.66 105.0,13.67 105.5,13.68 106.0,13.70 106.5,13.71 107.0,13.72 107.5,13.73 108.0,13.75 108.5,13.76 109.0,13.77 109.5,13.79 110.0,13.80 110.5,13.81 111.0,13.83 111.5,13.84 112.0,13.85 112.5,13.87 113.0,13.88 113.5,13.89 114.0,13.91 114.5,13.92 115.0,13.93 115.5,13.95 116.0,13.96 116.5,13.97 117.0,13.99 117.5,14.00 118.0,14.01 118.5,14.03 119.0,14.04 119.5,14.06 120.0,14.07 120.5,14.08 121.0,14.10 121.5,14.11 122.0,14.13 122.5,14.14 123.0,14.16 123.5,14.17 124.0,14.19 124.5,14.21 125.0,14.22 125.5,14.24 126.0,14.25 126.5,14.27 127.0,14.29 127.5,14.31 128.0,14.32 128.5,14.34 129.0,14.36 129.5,14.38 130.0,14.40 130.5,14.42 131.0,14.44 131.5,14.46 132.0,14.48 132.5,14.50 133.0,14.52 133.5,14.54 134.0,14.56 134.5,14.59 135.0,14.61 135.5,14.63 136.0,14.66 136.5,14.68 137.0,14.71 137.5,14.73 138.0,14.76 138.5,14.79 139.0,14.82 139.5,14.85 140.0,14.88 140.5,14.91 141.0,14.95 141.5,14.98 142.0,15.02 142.5,15.06 143.0,15.10 143.5,15.14 144.0,15.19 144.5,15.25 145.0,15.31 145.5,15.38 146.0,15.45 146.5,15.53 147.0,15.61 147.5,15.69 148.0,15.77 148.5,15.86 149.0,15.95 149.5,16.05 150.0,16.14 150.5,16.24 151.0,16.33 151.5,16.43 152.0,16.53 152.5,16.63 153.0,16.72 153.5,16.82 154.0,16.92 154.5,17.02 155.0,17.13 155.5,17.25 156.0,17.36 156.5,17.48 157.0,17.59 157.5,17.71 158.0,17.82 158.5,17.92 159.0,18.02 159.5,18.12 160.0,18.22 160.5,18.31 161.0,18.41 161.5,18.50 162.0,18.60 162.5,18.70 163.0,18.79 163.5,18.90 164.0,19.00 164.5,19.10 165.0,19.21 165.5,19.31 166.0,19.41 166.5,19.51 167.0,19.62 167.5,19.73 168.0,19.85 168.5,19.98 169.0,20.12 169.5,20.27 170.0,20.43 170.5,20.61 171.0,20.81 171.5,21.02 172.0,21.26 172.5,21.50 173.0,21.76 173.5,22.04 174.0,22.33 174.5,22.64 175.0,22.97 175.5,23.31 176.0,23.72 176.5,24.19 177.0,24.69 177.5,25.23 178.0,25.79 178.5,26.36 179.0,26.93 179.5,27.48 180.0,28.01 180.5,28.50 181.0,28.96 181.5,29.41 182.0,29.84 182.5,30.26 183.0,30.68 183.5,31.10 184.0,31.52 184.5,31.95 185.0,32.39 185.5,32.84 186.0,33.30 186.5,33.79 187.0,34.29 187.5,34.80 188.0,35.32 188.5,35.86 189.0,36.40 189.5,36.94 190.0,37.50 190.5,38.05 191.0,38.61 191.5,39.18 192.0,39.73 192.5,40.28 193.0,40.81 193.5,41.35 194.0,41.89 194.5,42.44 195.0,43.00 195.5,43.59 196.0,44.21 196.5,44.86 197.0,45.56 197.5,46.31 198.0,47.12 198.5,48.01 199.0,48.96 199.5,49.96 200.0,51.01 200.5,52.09 201.0,53.20 201.5,54.33 202.0,55.48 202.5,56.63 203.0,57.82 203.5,59.05 204.0,60.33 204.5,61.64 205.0,62.97 205.5,64.34 206.0,65.71 206.5,67.10 207.0,68.50 207.5,69.89 208.0,71.28 208.5,72.68 209.0,74.10 209.5,75.53 210.0,76.98 210.5,78.44 211.0,79.90 211.5,81.37 212.0,82.83 212.5,84.29 213.0,85.75 213.5,87.19 214.0,88.63 214.5,90.07 215.0,91.51 215.5,92.95 216.0,94.39 216.5,95.83 217.0,97.26 217.5,98.69 218.0,100.12 218.5,101.53 219.0,102.94 219.5,104.34 220.0,105.75 220.5,107.15 221.0,108.55 221.5,109.95 222.0,111.34 222.5,112.72 223.0,114.08 223.5,115.42 224.0,116.75 224.5,118.04 225.0,119.32 225.5,120.59 226.0,121.85 226.5,123.10 227.0,124.33 227.5,125.54 228.0,126.73 228.5,127.89 229.0,129.03 229.5,130.14 230.0,131.21 230.5,132.25 231.0,133.26 231.5,134.25 232.0,135.22 232.5,136.16 233.0,137.10 233.5,138.02 234.0,138.93 234.5,139.84 235.0,140.75 235.5,141.67 236.0,142.58 236.5,143.50 237.0,144.42 237.5,145.33 238.0,146.23 238.5,147.12 239.0,147.99 239.5,148.83 240.0,149.66 240.5,150.45 241.0,151.22 241.5,151.95 242.0,152.66 242.5,153.35 243.0,154.03 243.5,154.70 244.0,155.36 244.5,156.01 245.0,156.68 245.5,157.35 246.0,158.03 246.5,158.73 247.0,159.44 247.5,160.17 248.0,160.91 248.5,161.64 249.0,162.39 249.5,163.12 250.0,163.86 250.5,164.58 251.0,165.29 251.5,165.99 252.0,166.67 252.5,167.35 253.0,168.04 253.5,168.72 254.0,169.40 254.5,170.06 255.0,170.71 255.5,171.34 256.0,171.93 256.5,172.50 257.0,173.03 257.5,173.53 258.0,174.01 258.5,174.47 259.0,174.90 259.5,175.33 260.0,175.74 260.5,176.15 261.0,176.54 261.5,176.94 262.0,177.33 262.5,177.72 263.0,178.12 263.5,178.51 264.0,178.90 264.5,179.29 265.0,179.67 265.5,180.04 266.0,180.41 266.5,180.77 267.0,181.13 267.5,181.47 268.0,181.80 268.5,182.12 269.0,182.44 269.5,182.75 270.0,183.05 270.5,183.35 271.0,183.64 271.5,183.92 272.0,184.20 272.5,184.47 273.0,184.74 273.5,185.00 274.0,185.26 274.5,185.51 275.0,185.75 275.5,186.00 276.0,186.23 276.5,186.46 277.0,186.69 277.5,186.91 278.0,187.13 278.5,187.34 279.0,187.54 279.5,187.74 280.0,187.93 280.5,188.12 281.0,188.30 281.5,188.48 282.0,188.66 282.5,188.83 283.0,189.00 283.5,189.17 284.0,189.33 284.5,189.50 285.0,189.66 285.5,189.83 286.0,189.99 286.5,190.14 287.0,190.30 287.5,190.45 288.0,190.60 288.5,190.75 289.0,190.90 289.5,191.04 290.0,191.19 290.5,191.33 291.0,191.48 291.5,191.63 292.0,191.78 292.5,191.92 293.0,192.06 293.5,192.19 294.0,192.31 294.5,192.42 295.0,192.52 295.5,192.61 296.0,192.69 296.5,192.77 297.0,192.84 297.5,192.91 298.0,192.97 298.5,193.04 299.0,193.11 299.5,193.17 300.0,193.24 300.5,193.31 301.0,193.39 301.5,193.46 302.0,193.54 302.5,193.61 303.0,193.68 303.5,193.76 304.0,193.84 304.5,193.91 305.0,193.99 305.5,194.07 306.0,194.15 306.5,194.23 307.0,194.32 307.5,194.41 308.0,194.50 308.5,194.59 309.0,194.67 309.5,194.76 310.0,194.84 310.5,194.92 311.0,195.00 311.5,195.07 312.0,195.14 312.5,195.21 313.0,195.27 313.5,195.34 314.0,195.40 314.5,195.46 315.0,195.52 315.5,195.59 316.0,195.65 316.5,195.71 317.0,195.78 317.5,195.84 318.0,195.91 318.5,195.98 319.0,196.05 319.5,196.11 320.0,196.18 320.5,196.24 321.0,196.31 321.5,196.36 322.0,196.42 322.5,196.47 323.0,196.52 323.5,196.56 324.0,196.60 324.5,196.64 325.0,196.68 325.5,196.72 326.0,196.75 326.5,196.79 327.0,196.82 327.5,196.86 328.0,196.89 328.5,196.93 329.0,196.96 329.5,197.00 330.0,197.03 330.5,197.07 331.0,197.10 331.5,197.14 332.0,197.17 332.5,197.21 333.0,197.25 333.5,197.28 334.0,197.32 334.5,197.37 335.0,197.41 335.5,197.46 336.0,197.51 336.5,197.56 337.0,197.61 337.5,197.65 338.0,197.70 338.5,197.74 339.0,197.78 339.5,197.81 340.0,197.84 340.5,197.88 341.0,197.90 341.5,197.93 342.0,197.96 342.5,197.98 343.0,198.00" fill="none" stroke="#3ddc80" stroke-width="0.95"/>
<path d="M47.40,10.60L51.20,10.60L49.30,14.02Z" fill="#11bb44"/>
<path d="M52.87,10.77L56.67,10.77L54.77,14.19Z" fill="#11bb44"/>
<path d="M58.33,11.06L62.13,11.06L60.23,14.48Z" fill="#11bb44"/>
<path d="M63.80,11.27L67.60,11.27L65.70,14.69Z" fill="#11bb44"/>
<path d="M69.27,11.28L73.07,11.28L71.17,14.70Z" fill="#11bb44"/>
<path d="M74.73,11.39L78.54,11.39L76.64,14.81Z" fill="#11bb44"/>
<path d="M80.20,11.59L84.00,11.59L82.10,15.01Z" fill="#11bb44"/>
<path d="M85.67,11.80L89.47,11.80L87.57,15.22Z" fill="#11bb44"/>
<path d="M91.14,11.95L94.94,11.95L93.04,15.37Z" fill="#11bb44"/>
<path d="M96.60,12.09L100.40,12.09L98.50,15.51Z" fill="#11bb44"/>
<path d="M102.07,12.22L105.87,12.22L103.97,15.64Z" fill="#11bb44"/>
<path d="M107.54,12.36L111.34,12.36L109.44,15.78Z" fill="#11bb44"/>
<path d="M113.00,12.51L116.80,12.51L114.90,15.93Z" fill="#11bb44"/>
<path d="M118.47,12.66L122.27,12.66L120.37,16.08Z" fill="#11bb44"/>
<path d="M123.94,12.82L127.74,12.82L125.84,16.24Z" fill="#11bb44"/>
<path d="M129.40,13.03L133.20,13.03L131.30,16.45Z" fill="#11bb44"/>
<path d="M134.87,13.27L138.67,13.27L136.77,16.69Z" fill="#11bb44"/>
<path d="M140.34,13.61L144.14,13.61L142.24,17.03Z" fill="#11bb44"/>
<path d="M145.81,14.30L149.61,14.30L147.71,17.72Z" fill="#11bb44"/>
<path d="M151.27,15.33L155.07,15.33L153.17,18.75Z" fill="#11bb44"/>
<path d="M156.74,16.52L160.54,16.52L158.64,19.94Z" fill="#11bb44"/>
<path d="M162.21,17.60L166.01,17.60L164.11,21.02Z" fill="#11bb44"/>
<path d="M167.67,18.87L171.47,18.87L169.57,22.29Z" fill="#11bb44"/>
<path d="M173.14,21.57L176.94,21.57L175.04,24.99Z" fill="#11bb44"/>
<path d="M178.61,27.08L182.41,27.08L180.51,30.50Z" fill="#11bb44"/>
<path d="M184.07,31.86L187.87,31.86L185.97,35.28Z" fill="#11bb44"/>
<path d="M189.54,37.69L193.34,37.69L191.44,41.11Z" fill="#11bb44"/>
<path d="M195.01,44.00L198.81,44.00L196.91,47.42Z" fill="#11bb44"/>
<path d="M200.48,54.92L204.28,54.92L202.38,58.34Z" fill="#11bb44"/>
<path d="M205.94,69.42L209.74,69.42L207.84,72.84Z" fill="#11bb44"/>
<path d="M211.41,85.22L215.21,85.22L213.31,88.64Z" fill="#11bb44"/>
<path d="M216.88,100.89L220.68,100.89L218.78,104.31Z" fill="#11bb44"/>
<path d="M222.34,115.96L226.14,115.96L224.24,119.38Z" fill="#11bb44"/>
<path d="M227.81,129.17L231.61,129.17L229.71,132.59Z" fill="#11bb44"/>
<path d="M233.28,139.65L237.08,139.65L235.18,143.07Z" fill="#11bb44"/>
<path d="M238.74,149.25L242.54,149.25L240.64,152.67Z" fill="#11bb44"/>
<path d="M244.21,156.76L248.01,156.76L246.11,160.18Z" fill="#11bb44"/>
<path d="M249.68,164.67L253.48,164.67L251.58,168.09Z" fill="#11bb44"/>
<path d="M255.15,171.65L258.95,171.65L257.05,175.07Z" fill="#11bb44"/>
<path d="M260.61,176.31L264.41,176.31L262.51,179.73Z" fill="#11bb44"/>
<path d="M266.08,180.36L269.88,180.36L267.98,183.78Z" fill="#11bb44"/>
<path d="M271.55,183.55L275.35,183.55L273.45,186.97Z" fill="#11bb44"/>
<path d="M277.01,186.08L280.81,186.08L278.91,189.50Z" fill="#11bb44"/>
<path d="M282.48,188.04L286.28,188.04L284.38,191.46Z" fill="#11bb44"/>
<path d="M287.95,189.72L291.75,189.72L289.85,193.14Z" fill="#11bb44"/>
<path d="M293.42,191.15L297.21,191.15L295.31,194.57Z" fill="#11bb44"/>
<path d="M298.88,191.93L302.68,191.93L300.78,195.35Z" fill="#11bb44"/>
<path d="M304.35,192.76L308.15,192.76L306.25,196.18Z" fill="#11bb44"/>
<path d="M309.82,193.68L313.62,193.68L311.72,197.10Z" fill="#11bb44"/>
<path d="M315.28,194.38L319.08,194.38L317.18,197.80Z" fill="#11bb44"/>
<path d="M320.75,195.06L324.55,195.06L322.65,198.48Z" fill="#11bb44"/>
<path d="M326.22,195.48L330.02,195.48L328.12,198.90Z" fill="#11bb44"/>
<path d="M331.68,195.87L335.48,195.87L333.58,199.29Z" fill="#11bb44"/>
<path d="M337.15,196.36L340.95,196.36L339.05,199.78Z" fill="#11bb44"/>
<line x1="280" y1="18.2" x2="313.5" y2="18.2" stroke="#ff3030" stroke-width="1.2"/>
<circle cx="296.80" cy="18.20" r="1.27" fill="#ee0000"/>
<text transform="translate(317.4 23.30) scale(1 1.07)" class="t">S-0</text>
<line x1="280" y1="37.0" x2="313.5" y2="37.0" stroke="#7a93cf" stroke-width="1.2"/>
<circle cx="296.80" cy="37.00" r="1.27" fill="#1a3a99"/>
<text transform="translate(317.4 42.10) scale(1 1.07)" class="t">S-1</text>
<line x1="280" y1="55.0" x2="313.5" y2="55.0" stroke="#ffd83a" stroke-width="1.2"/>
<circle cx="296.80" cy="55.00" r="1.27" fill="#f0b400"/>
<text transform="translate(317.4 60.10) scale(1 1.07)" class="t">S-2</text>
<line x1="280" y1="73.6" x2="313.5" y2="73.6" stroke="#5edc92" stroke-width="1.2"/>
<path d="M295.19,72.39L298.42,72.39L296.80,75.30Z" fill="#11bb44"/>
<text transform="translate(317.4 78.70) scale(1 1.07)" class="t">S-3</text>
</svg>
</body></html>
